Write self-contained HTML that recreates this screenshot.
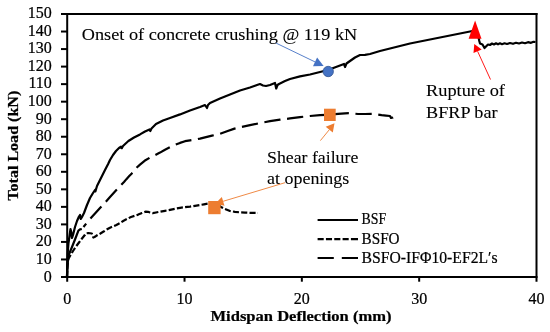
<!DOCTYPE html>
<html><head><meta charset="utf-8"><title>Load deflection chart</title>
<style>html,body{margin:0;padding:0;background:#fff}svg{display:block}text{font-family:"Liberation Serif",serif;fill:#000;stroke:#000;stroke-width:0.22px}text.an{stroke-width:0.1px}</style></head>
<body>
<svg width="550" height="332" viewBox="0 0 550 332">
<rect width="550" height="332" fill="#fff"/>
<polyline points="83.5,227 88,221.3 91.8,217.1 95,213.6 100,208.1 105,202.6 110,197.1 115,191.6 120,186.2 124,182 126.2,179.4 129,176.3 131.8,173.4 133,172.2 136,168.2 140,164.6 144.6,160.8 150,157.6 155.4,155 160,152.6 165,149.7 170,147.2 175,144.9 180,142.9 185,141.2 190,140.4 195,139.6 200,138.6 205,137.4 212,135.6 220,133.8 227,131.3 234.5,128.6 240,127.2 250,125.2 260,123 270,121.2 280,119.7 290,118.4 300,117.1 310,116 320,115.2 330,114.6 338,113.8 345,113.3 350,113.2 358,114 365,114 373,113.8 381.6,115.2 386,115.6 390,116 391,118 393,117.5 395,116.4" fill="none" stroke="#000" stroke-width="2.2" stroke-dasharray="16.3 6.6" stroke-dashoffset="12" stroke-linejoin="round"/>
<polyline points="67,277 67.3,268 67.8,262 68.5,255.5 72,247 75,239.5 78.4,230.6 80,229.4 81.8,229" fill="none" stroke="#000" stroke-width="2.2" stroke-linejoin="round"/>
<polyline points="67,277 67.3,268 67.8,262 68.5,258.6 70,256 73,251 76,246.5 79,242.5 82,238.5 84.6,235.3 85.8,233.4 88.4,233 91.8,233.5 92.6,235.5 93.3,237.5 94.5,237 96.3,235.8 100,233.7 104,231.3 106.2,229.8 110,227.7 116.4,225 120,223 123.6,220.7 127,219 131,217 135,215.7 138.2,214.6 142,213 145.5,211.7 148,211.8 150,212.5 152.7,213.2 156,212.5 160,211.7 165,210.8 170,209.8 175,208.8 180,207.8 185,207.2 190,206.6 195,205.8 200,205 204,204.3 208,203.6 212,203.3 215,203.5 218,205 221,207 225,209 230,211 235,211.8 240,212.4 245,212.6 250,212.8 258,213" fill="none" stroke="#000" stroke-width="2.2" stroke-dasharray="6.1 2.23" stroke-linejoin="round"/>
<polyline points="67,277 67.3,265 67.8,252 68.5,243 69.5,236 70.5,229 71.2,232 72,238 73,235 75,227 77,221 79,216.5 80,215 80.8,219 82,217 84,213 87,205 90,198 93,193 95,190 95.4,191.5 97,186 100,180 102,176 105,170 108,164.2 110,160 113,155 116,151 119,148 121,146.7 121.8,148.2 123,146 128.4,141 134,137.5 140,134.4 145,131.5 149.5,129.4 150.3,131 151.5,128.5 156,124 163,120.5 170,118 180,114.4 190,110.5 200,107 205,105 207,108 208,105 210,103 220,98.5 230,94.5 240,90.5 250,87.5 257,85 260,84 263,85.5 266,86 270,85 275,83 276.2,88.5 277.5,85 279,84 285,81 290,79 300,76.4 310,74.5 320,72 328,70 336,67 344,64 345,67 346.5,63.5 350,61 355,57.5 360,55 365,54.8 370,54 380,51 390,48.5 400,46 410,43.5 420,41.5 430,39.5 440,37.5 450,35.5 460,33.5 470,31.5 475.5,30.3 478.7,38 479.3,41 480,43.5 482.5,44.5 484.5,48 486,46.5 488,44.5 490,45 492,43.5 494,44.5 496,43.3 498,44.3 500,43.3 502,44.2 504.5,43.3 507,44 510,43 513,43.8 516,42.8 519,43.5 522,42.5 525,43.2 528,42.2 531,42.8 533.5,41.8 535.5,42" fill="none" stroke="#000" stroke-width="2.2" stroke-linejoin="round"/>
<g stroke="#000" stroke-width="2" fill="none">
<line x1="67.2" y1="13.0" x2="67.2" y2="281.7"/>
<line x1="536.5" y1="13.0" x2="536.5" y2="281.7"/>
<line x1="61" y1="14.0" x2="537.5" y2="14.0"/>
<line x1="61" y1="277.0" x2="537.5" y2="277.0"/>
<line x1="61" y1="259.47" x2="67.2" y2="259.47"/>
<line x1="61" y1="241.93" x2="67.2" y2="241.93"/>
<line x1="61" y1="224.40" x2="67.2" y2="224.40"/>
<line x1="61" y1="206.87" x2="67.2" y2="206.87"/>
<line x1="61" y1="189.33" x2="67.2" y2="189.33"/>
<line x1="61" y1="171.80" x2="67.2" y2="171.80"/>
<line x1="61" y1="154.27" x2="67.2" y2="154.27"/>
<line x1="61" y1="136.73" x2="67.2" y2="136.73"/>
<line x1="61" y1="119.20" x2="67.2" y2="119.20"/>
<line x1="61" y1="101.67" x2="67.2" y2="101.67"/>
<line x1="61" y1="84.13" x2="67.2" y2="84.13"/>
<line x1="61" y1="66.60" x2="67.2" y2="66.60"/>
<line x1="61" y1="49.07" x2="67.2" y2="49.07"/>
<line x1="61" y1="31.53" x2="67.2" y2="31.53"/>
<line x1="184.53" y1="277.0" x2="184.53" y2="281.7"/>
<line x1="301.85" y1="277.0" x2="301.85" y2="281.7"/>
<line x1="419.18" y1="277.0" x2="419.18" y2="281.7"/>
</g>
<g font-size="16" text-anchor="end">
<text x="51.8" y="281.60">0</text>
<text x="51.8" y="264.03">10</text>
<text x="51.8" y="246.47">20</text>
<text x="51.8" y="228.90">30</text>
<text x="51.8" y="211.33">40</text>
<text x="51.8" y="193.77">50</text>
<text x="51.8" y="176.20">60</text>
<text x="51.8" y="158.63">70</text>
<text x="51.8" y="141.07">80</text>
<text x="51.8" y="123.50">90</text>
<text x="51.8" y="105.93">100</text>
<text x="51.8" y="88.37">110</text>
<text x="51.8" y="70.80">120</text>
<text x="51.8" y="53.23">130</text>
<text x="51.8" y="35.67">140</text>
<text x="51.8" y="18.10">150</text>
</g>
<g font-size="16" text-anchor="middle">
<text x="67.20" y="303.5">0</text>
<text x="184.53" y="303.5">10</text>
<text x="301.85" y="303.5">20</text>
<text x="419.18" y="303.5">30</text>
<text x="536.50" y="303.5">40</text>
</g>
<text x="210.5" y="320.5" font-size="15" font-weight="bold" textLength="181" lengthAdjust="spacingAndGlyphs">Midspan Deflection (mm)</text>
<text transform="translate(18.1,200.7) rotate(-90)" font-size="15" font-weight="bold" textLength="110" lengthAdjust="spacingAndGlyphs">Total Load (kN)</text>
<text x="81.8" y="40.2" class="an" font-size="17.6" textLength="275.5" lengthAdjust="spacingAndGlyphs">Onset of concrete crushing @ 119 kN</text>
<text x="426" y="96.4" class="an" font-size="17.6" textLength="79" lengthAdjust="spacingAndGlyphs">Rupture of</text>
<text x="426" y="118" class="an" font-size="17.6" textLength="71.6" lengthAdjust="spacingAndGlyphs">BFRP bar</text>
<text x="267" y="162.5" class="an" font-size="17.6" textLength="91.3" lengthAdjust="spacingAndGlyphs">Shear failure</text>
<text x="267" y="184.4" class="an" font-size="17.6" textLength="82.3" lengthAdjust="spacingAndGlyphs">at openings</text>
<line x1="275.9" y1="43" x2="315.0" y2="61.9" stroke="#4472C4" stroke-width="0.9"/><polygon points="323.6,66.0 313.0,66.2 317.1,57.6" fill="#4472C4"/>
<line x1="490.5" y1="79.5" x2="477.6" y2="51.3" stroke="#FF0000" stroke-width="0.9"/><polygon points="474.3,44 481.7,49.4 473.5,53.1" fill="#FF0000"/>
<line x1="320.4" y1="140.6" x2="329.3" y2="129.7" stroke="#ED7D31" stroke-width="0.9"/><polygon points="334.5,123.3 332.8,132.6 325.7,126.8" fill="#ED7D31"/>
<line x1="285" y1="182.7" x2="223.1" y2="201.3" stroke="#ED7D31" stroke-width="0.9"/><polygon points="215.2,203.7 221.8,196.9 224.5,205.7" fill="#ED7D31"/>
<circle cx="328.2" cy="71.5" r="5.2" fill="#4472C4" stroke="#2F528F" stroke-width="0.8"/>
<rect x="324" y="108.7" width="11.7" height="12.3" fill="#ED7D31"/>
<rect x="208.2" y="201" width="12.4" height="13.2" fill="#ED7D31"/>
<polygon points="475.1,20.4 468.6,38.8 481.5,38.8" fill="#FF0000"/>
<g stroke="#000" stroke-width="2.2" fill="none">
<line x1="317.6" y1="220" x2="358" y2="220"/>
<line x1="317.6" y1="239.1" x2="358" y2="239.1" stroke-dasharray="6.1 2.23 6.1 2.23 6.1 2.23 6.1 2.23 8 9"/>
<line x1="317.6" y1="258" x2="358" y2="258" stroke-dasharray="16.2 8"/>
</g>
<text x="361.6" y="224.3" font-size="16" textLength="24.6" lengthAdjust="spacingAndGlyphs">BSF</text>
<text x="361.6" y="243.5" font-size="16" textLength="38" lengthAdjust="spacingAndGlyphs">BSFO</text>
<text x="361.6" y="262.7" font-size="16" textLength="136" lengthAdjust="spacingAndGlyphs">BSFO-IFΦ10-EF2L′s</text>
</svg>
</body></html>
